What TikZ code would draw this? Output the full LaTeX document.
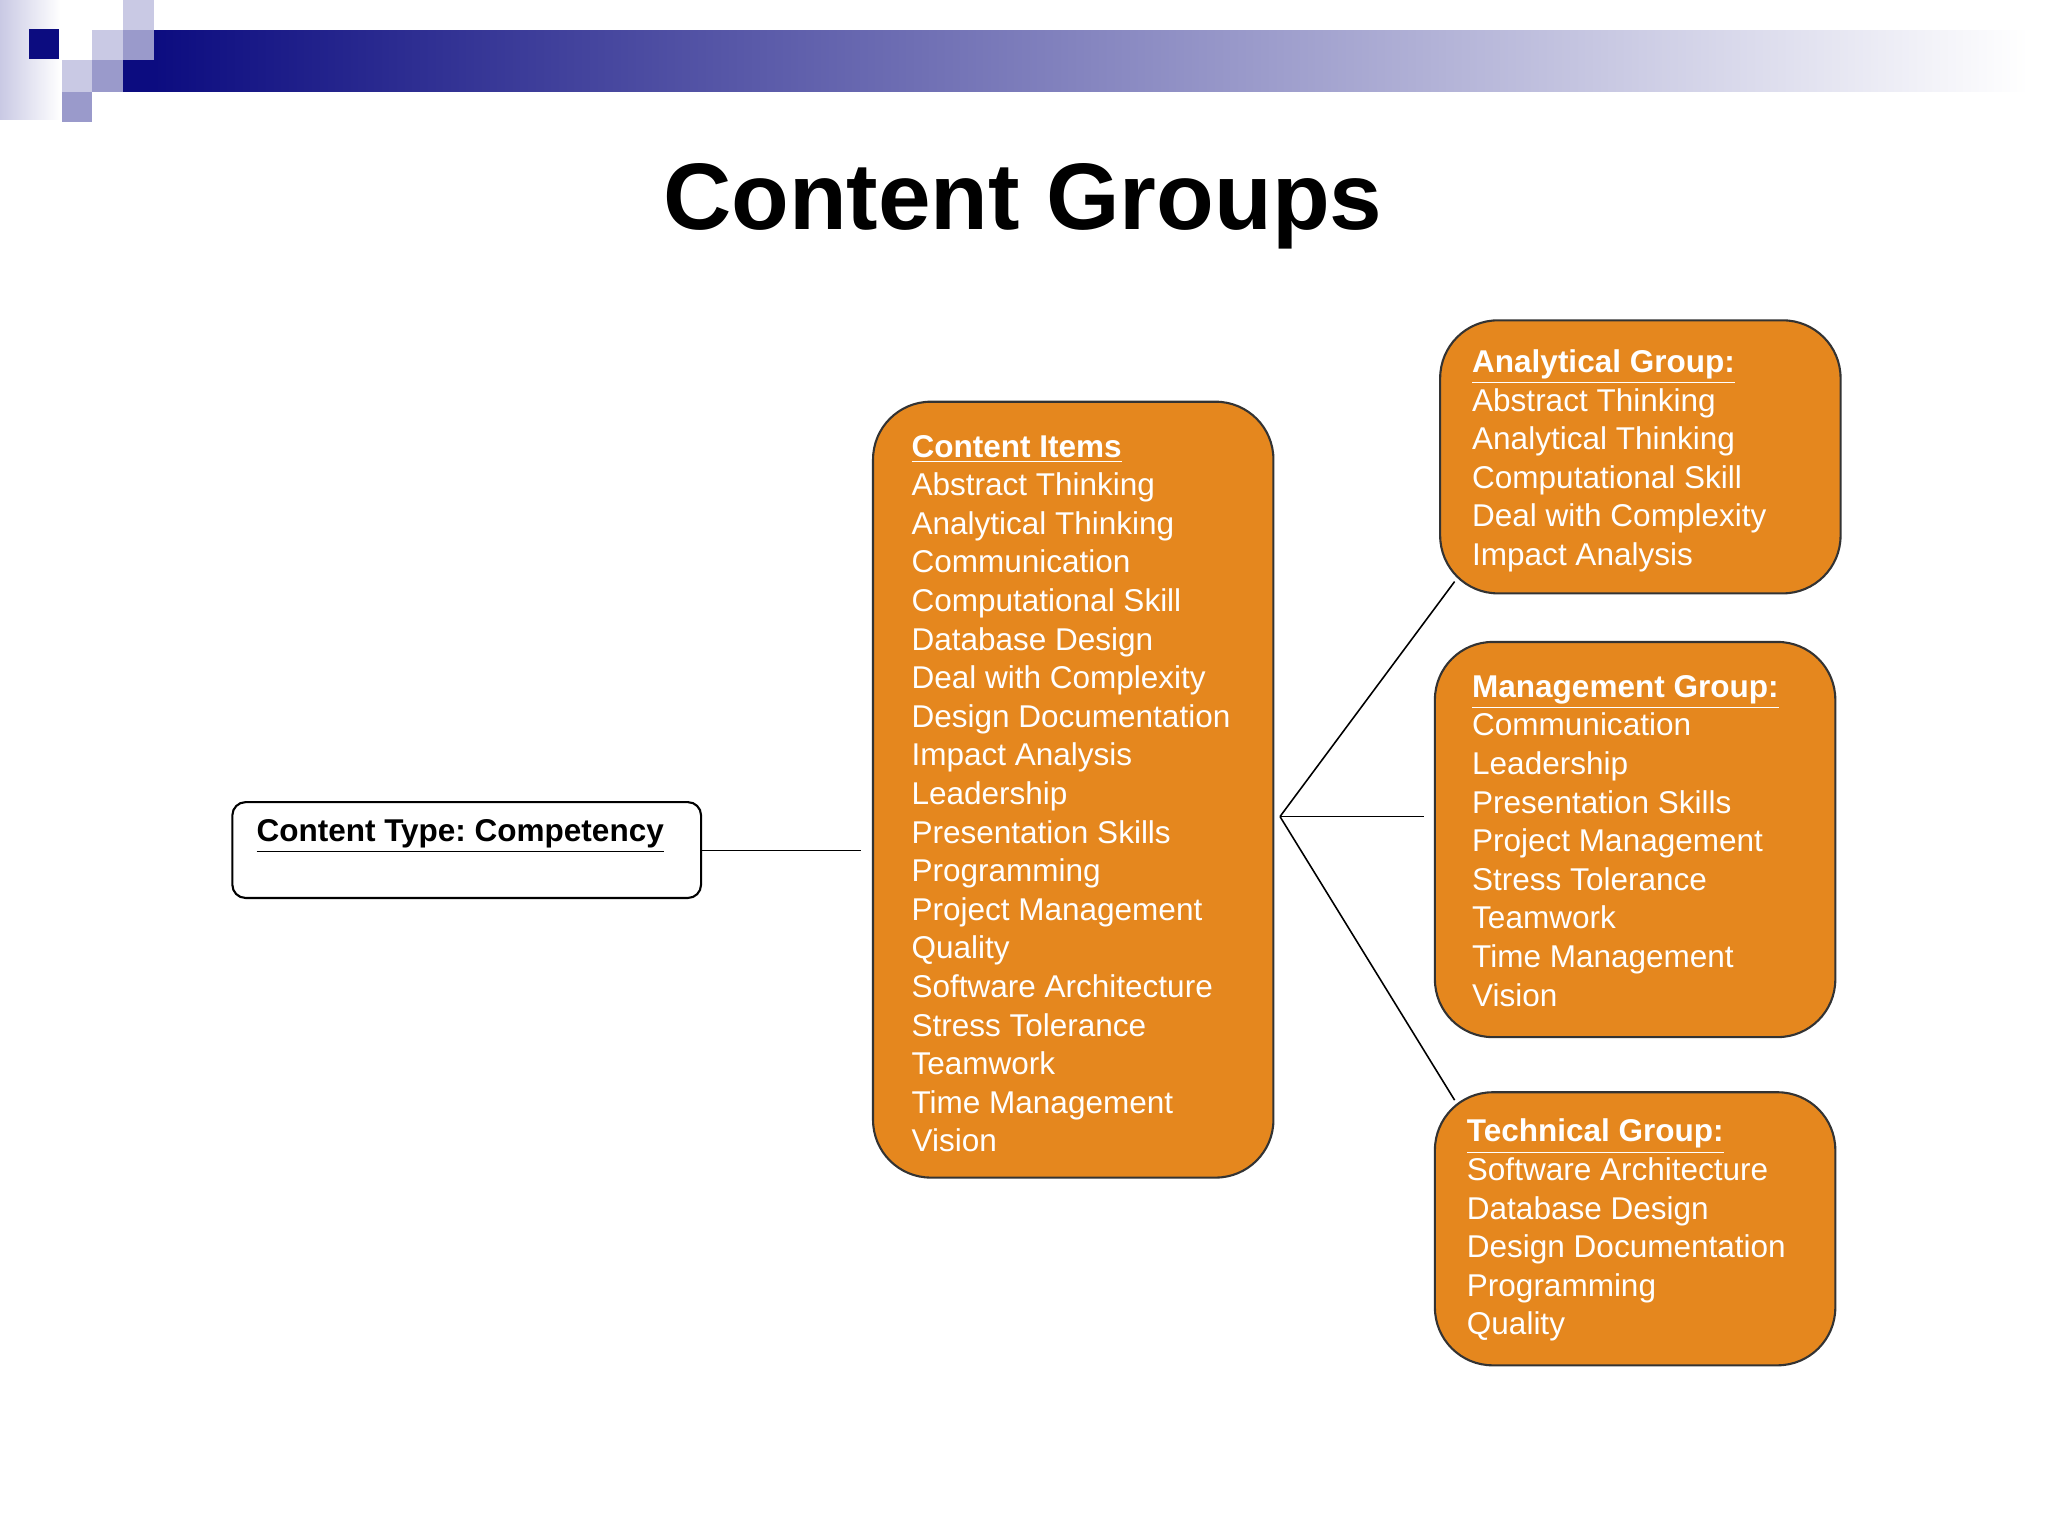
\documentclass[tikz,border=0pt]{standalone}
\usepackage{fontspec}
\setmainfont{Liberation Sans}
\frenchspacing
\begin{document}
\begin{tikzpicture}[x=0.5pt,y=-0.5pt,
  orangebox/.style={draw=black!80,line width=0.8pt,fill=boxorange,rounded corners=22pt},
  boxtext/.style={anchor=north west,align=left,text=white,font=\fontsize{12}{14.7}\selectfont,inner sep=0pt},
  link/.style={draw=black,line width=0.6pt}]
\definecolor{boxorange}{HTML}{E5871E}
\definecolor{navy}{HTML}{0C0C80}
\definecolor{lav}{HTML}{C9C9E4}
\definecolor{mid}{HTML}{9A9ACB}
\useasboundingbox (0,0) rectangle (1560,1170);
\fill[white] (0,0) rectangle (1560,1170);
% header decoration
\shade[left color=lav,right color=white] (0,0) rectangle (46,91);
\shade[left color=navy,right color=white] (117,23) rectangle (1545,70);
\fill[navy] (94,46) rectangle (117,70);
\fill[navy] (22,22) rectangle (45,45);
\fill[lav] (94,0) rectangle (117,23);
\fill[lav] (70,23) rectangle (94,46);
\fill[mid] (94,23) rectangle (117,46);
\fill[lav] (47,46) rectangle (70,70);
\fill[mid] (70,46) rectangle (94,70);
\fill[mid] (47,70) rectangle (70,93);
% title
\node (title) at (779,157) {\fontsize{36}{42}\selectfont\bfseries Content Groups};
% content type
\draw[rounded corners=5pt,line width=0.8pt] (177,611) rectangle (534,684);
\node[anchor=west,font=\fontsize{12}{14}\selectfont\bfseries,inner sep=0pt] (ctype) at (195,637) {\underline{Content Type: Competency}};
\coordinate (ctr) at (534,648);
\coordinate (ctend) at (656,648);
\draw[link] (ctr) -- (ctend);
% content items
\draw[orangebox] (665,306) rectangle (970,897);
\node[boxtext] (items) at (694,331) {\textbf{\underline{Content Items}}\\Abstract Thinking\\Analytical Thinking\\Communication\\Computational Skill\\Database Design\\Deal with Complexity\\Design Documentation\\Impact Analysis\\Leadership\\Presentation Skills\\Programming\\Project Management\\Quality\\Software Architecture\\Stress Tolerance\\Teamwork\\Time Management\\Vision};
% groups
\draw[orangebox] (1097,244) rectangle (1402,452);
\node[boxtext] (ana) at (1121,266) {\textbf{\underline{Analytical Group:}}\\Abstract Thinking\\Analytical Thinking\\Computational Skill\\Deal with Complexity\\Impact Analysis};
\draw[orangebox] (1093,489) rectangle (1398,790);
\node[boxtext] (man) at (1121,514) {\textbf{\underline{Management Group:}}\\Communication\\Leadership\\Presentation Skills\\Project Management\\Stress Tolerance\\Teamwork\\Time Management\\Vision};
\draw[orangebox] (1093,832) rectangle (1398,1040);
\node[boxtext] (tec) at (1117,852) {\textbf{\underline{Technical Group:}}\\Software Architecture\\Database Design\\Design Documentation\\Programming\\Quality};
% connectors
\coordinate (hub) at (975,622);
\coordinate (anaend) at (1108,443);
\coordinate (manend) at (1085,622);
\coordinate (tecend) at (1108,838);
\draw[link] (hub) -- (anaend);
\draw[link] (hub) -- (manend);
\draw[link] (hub) -- (tecend);
\end{tikzpicture}
\end{document}
